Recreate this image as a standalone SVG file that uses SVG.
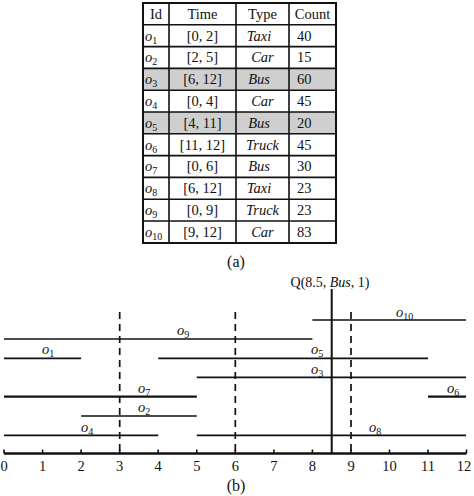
<svg xmlns="http://www.w3.org/2000/svg" width="474" height="496" viewBox="0 0 474 496">
<style>
text{font-family:"Liberation Serif","DejaVu Serif",serif;font-size:14.5px;fill:#111}
.c{text-anchor:middle}
.i{font-style:italic}
.s{font-size:10px;font-style:normal}
.grid{stroke:#111;stroke-width:1.6;fill:none}
.outer{stroke:#111;stroke-width:2;fill:none}
.iv{stroke:#111;stroke-width:1.7}
.dash{stroke:#111;stroke-width:1.7;stroke-dasharray:7 5}
</style>
<rect width="474" height="496" fill="#fff"/>
<g id="table">
<rect x="143" y="68.4" width="193" height="21.8" fill="#cfcfcf"/>
<rect x="143" y="112" width="193" height="21.8" fill="#cfcfcf"/>
<g class="grid">
<path d="M169 3V243M236 3V243M289 3V243"/>
<path d="M143 24.8H336M143 46.6H336M143 68.4H336M143 90.2H336M143 112H336M143 133.8H336M143 155.6H336M143 177.4H336M143 199.2H336M143 221H336"/>
</g>
<rect class="outer" x="143" y="3" width="193" height="240"/>
<text x="156" y="19" class="c">Id</text>
<text x="202.5" y="19" class="c">Time</text>
<text x="262.5" y="19" class="c">Type</text>
<text x="312.5" y="19" class="c">Count</text>
<g id="r1"><text x="145" y="40.5" class="i">o<tspan class="s" dy="3">1</tspan></text><text x="202.5" y="40.5" class="c">[0, 2]</text><text x="259" y="40.5" class="c i">Taxi</text><text x="297" y="40.5">40</text></g>
<g id="r2"><text x="145" y="62.3" class="i">o<tspan class="s" dy="3">2</tspan></text><text x="202.5" y="62.3" class="c">[2, 5]</text><text x="262.5" y="62.3" class="c i">Car</text><text x="297" y="62.3">15</text></g>
<g id="r3"><text x="145" y="84.1" class="i">o<tspan class="s" dy="3">3</tspan></text><text x="202.5" y="84.1" class="c">[6, 12]</text><text x="259" y="84.1" class="c i">Bus</text><text x="297" y="84.1">60</text></g>
<g id="r4"><text x="145" y="105.9" class="i">o<tspan class="s" dy="3">4</tspan></text><text x="202.5" y="105.9" class="c">[0, 4]</text><text x="262.5" y="105.9" class="c i">Car</text><text x="297" y="105.9">45</text></g>
<g id="r5"><text x="145" y="127.7" class="i">o<tspan class="s" dy="3">5</tspan></text><text x="202.5" y="127.7" class="c">[4, 11]</text><text x="259" y="127.7" class="c i">Bus</text><text x="297" y="127.7">20</text></g>
<g id="r6"><text x="145" y="149.5" class="i">o<tspan class="s" dy="3">6</tspan></text><text x="202.5" y="149.5" class="c">[11, 12]</text><text x="262.5" y="149.5" class="c i">Truck</text><text x="297" y="149.5">45</text></g>
<g id="r7"><text x="145" y="171.3" class="i">o<tspan class="s" dy="3">7</tspan></text><text x="202.5" y="171.3" class="c">[0, 6]</text><text x="259" y="171.3" class="c i">Bus</text><text x="297" y="171.3">30</text></g>
<g id="r8"><text x="145" y="193.1" class="i">o<tspan class="s" dy="3">8</tspan></text><text x="202.5" y="193.1" class="c">[6, 12]</text><text x="259" y="193.1" class="c i">Taxi</text><text x="297" y="193.1">23</text></g>
<g id="r9"><text x="145" y="214.9" class="i">o<tspan class="s" dy="3">9</tspan></text><text x="202.5" y="214.9" class="c">[0, 9]</text><text x="262.5" y="214.9" class="c i">Truck</text><text x="297" y="214.9">23</text></g>
<g id="r10"><text x="145" y="236.7" class="i">o<tspan class="s" dy="3">10</tspan></text><text x="202.5" y="236.7" class="c">[9, 12]</text><text x="262.5" y="236.7" class="c i">Car</text><text x="297" y="236.7">83</text></g>
</g>
<text x="236" y="267" class="c" style="font-size:16px">(a)</text>
<g id="timeline">
<g id="guides">
<path class="dash" d="M119.7 312V453M235.3 312V453M351 312V453"/>
<path d="M331.7 289V453" stroke="#111" stroke-width="2"/>
<text x="330" y="287" class="c" style="font-size:14px">Q(8.5, <tspan class="i">Bus</tspan>, 1)</text>
</g>
<g id="intervals" class="iv">
<path d="M312.4 320H466"/>
<path d="M4 339H312.4"/>
<path d="M4 358.3H81.1"/>
<path d="M158.2 358.3H428"/>
<path d="M196.8 377.3H466"/>
<path d="M4 396.7H196.8" stroke-width="2.2"/>
<path d="M428 396.7H466" stroke-width="2.2"/>
<path d="M81.1 416H196.8"/>
<path d="M4 435.3H158.2"/>
<path d="M196.8 435.3H466"/>
</g>
<g id="labels">
<text x="396" y="317" class="i">o<tspan class="s" dy="3">10</tspan></text>
<text x="177" y="335" class="i">o<tspan class="s" dy="3">9</tspan></text>
<text x="42" y="354" class="i">o<tspan class="s" dy="3">1</tspan></text>
<text x="311" y="354" class="i">o<tspan class="s" dy="3">5</tspan></text>
<text x="311" y="373.5" class="i">o<tspan class="s" dy="3">3</tspan></text>
<text x="138" y="393" class="i">o<tspan class="s" dy="3">7</tspan></text>
<text x="447" y="393" class="i">o<tspan class="s" dy="3">6</tspan></text>
<text x="138" y="412" class="i">o<tspan class="s" dy="3">2</tspan></text>
<text x="81" y="431.5" class="i">o<tspan class="s" dy="3">4</tspan></text>
<text x="369" y="431.5" class="i">o<tspan class="s" dy="3">8</tspan></text>
</g>
<g id="axis">
<path d="M4 453.5H466.5" stroke="#111" stroke-width="2.6"/>
<path d="M4 453.5v-4M42.6 453.5v-4M81.1 453.5v-4M119.7 453.5v-4M158.2 453.5v-4M196.8 453.5v-4M235.3 453.5v-4M273.9 453.5v-4M312.4 453.5v-4M351 453.5v-4M389.5 453.5v-4M428 453.5v-4M466.5 453.5v-4" stroke="#111" stroke-width="1.6"/>
<g style="font-size:13px" class="c">
<text x="4" y="471" class="c">0</text>
<text x="42.6" y="471" class="c">1</text>
<text x="81.1" y="471" class="c">2</text>
<text x="119.7" y="471" class="c">3</text>
<text x="158.2" y="471" class="c">4</text>
<text x="196.8" y="471" class="c">5</text>
<text x="235.3" y="471" class="c">6</text>
<text x="273.9" y="471" class="c">7</text>
<text x="312.4" y="471" class="c">8</text>
<text x="351" y="471" class="c">9</text>
<text x="389.5" y="471" class="c">10</text>
<text x="428" y="471" class="c">11</text>
<text x="464" y="471" class="c">12</text>
</g>
</g>
</g>
<text x="236" y="491" class="c" style="font-size:16px">(b)</text>
</svg>
